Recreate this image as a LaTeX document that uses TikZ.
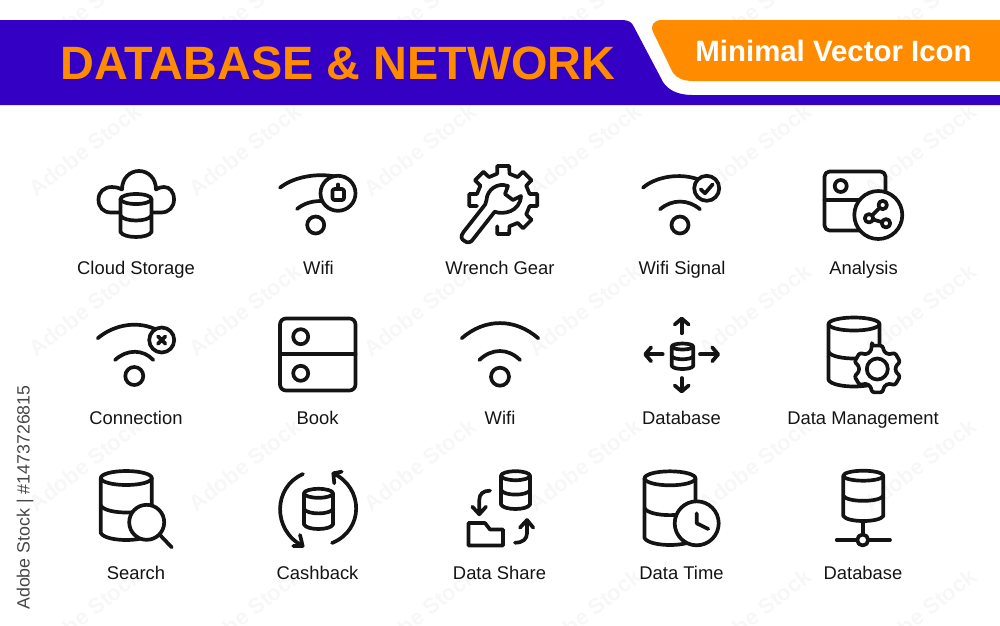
\documentclass[tikz,border=0pt]{standalone}
\usepackage{fontspec}
\setmainfont{Liberation Sans}
\usepackage{tikz}
\usetikzlibrary{arrows.meta}
\definecolor{bandblue}{HTML}{3300C4}
\definecolor{bandorange}{HTML}{FF8C00}
\definecolor{inkblack}{HTML}{141414}
\tikzstyle{Icon}=[draw=inkblack, line width=3.7, line cap=round, line join=round]
\tikzstyle{Badge}=[Icon, fill=white]
\tikzstyle{Barb}=[-{Straight Barb[length=6,width=14,round]}]
\tikzstyle{Label}=[anchor=base, inner sep=0, text=inkblack, font=\fontsize{18.4}{20}\selectfont]
\tikzstyle{Mark}=[text=gray!6, rotate=38, font=\bfseries\fontsize{22}{24}\selectfont]
% centre x, centre y of the lid, half width, lid height, lowest y
\newcommand{\drum}[5]{%
    \draw[Icon] (#1,#2) ellipse [x radius=#3, y radius=#4];
    \draw[Icon] ({#1-#3},#2) -- ({#1-#3},{#5-#4})
        .. controls ({#1-0.8*#3},{#5+0.33*#4}) and ({#1+0.8*#3},{#5+0.33*#4}) .. ({#1+#3},{#5-#4})
        -- ({#1+#3},#2);
    \draw[Icon] ({#1-#3},{(#2+#5-#4)/2})
        .. controls ({#1-0.8*#3},{(#2+#5-#4)/2+1.33*#4}) and ({#1+0.8*#3},{(#2+#5-#4)/2+1.33*#4}) .. ({#1+#3},{(#2+#5-#4)/2});
}
\begin{document}
\begin{tikzpicture}[x=1pt, y=-1pt]
    \useasboundingbox (0,0) rectangle (1000,625);

    \foreach \row/\ypos in {0/10, 1/150, 2/310, 3/465, 4/615}
        \foreach \col/\xpos in {0/85, 1/245, 2/420, 3/585, 4/755, 5/920}
            \node[Mark] (mark\row\col) at (\xpos,\ypos) {Adobe Stock};

    % header
    \fill[bandblue] (0,20) -- (622,20) .. controls (628,20) and (632,22) .. (634,27) -- (663,82)
        .. controls (668,90) and (678,95) .. (692,95) -- (1000,95) -- (1000,105) -- (0,105) -- cycle;
    \fill[bandorange] (662,20) -- (1000,20) -- (1000,81) -- (693,81)
        .. controls (683,81) and (677,78) .. (673,73) -- (653,32)
        .. controls (650,25) and (654,20) .. (662,20) -- cycle;
    \path
    (338,79.5) node[anchor=base, inner sep=0, text=bandorange, font=\bfseries\fontsize{46.8}{50}\selectfont] (title) {DATABASE \& NETWORK}
    (833.5,61) node[anchor=base, inner sep=0, text=white, font=\bfseries\fontsize{29.4}{32}\selectfont] (subtitle) {Minimal Vector Icon}
    (29.5,497.5) node[rotate=90, anchor=base, inner sep=0, text=black!72, font=\fontsize{17.8}{20}\selectfont] (stock) {Adobe Stock | \#1473726815};

    \path
    (136,274) node[Label] (cloudtext) {Cloud Storage}
    (318.5,274) node[Label] (wifilocktext) {Wifi}
    (500,274) node[Label] (wrenchtext) {Wrench Gear}
    (682,274) node[Label] (signaltext) {Wifi Signal}
    (863.5,274) node[Label] (analysistext) {Analysis}
    (136,424.5) node[Label] (connectiontext) {Connection}
    (317.5,424.5) node[Label] (booktext) {Book}
    (500,424.5) node[Label] (wifitext) {Wifi}
    (681.5,424.5) node[Label] (arrowstext) {Database}
    (863,424.5) node[Label] (managetext) {Data Management}
    (136,579) node[Label] (searchtext) {Search}
    (317.5,579) node[Label] (cashtext) {Cashback}
    (499.5,579) node[Label] (sharetext) {Data Share}
    (681.5,579) node[Label] (timetext) {Data Time}
    (863,579) node[Label] (nettext) {Database};

    % cloud storage
    \draw[Icon] (120,212.5) -- (111,212.5) .. controls (103,212.5) and (98.5,207) .. (98.5,199.5)
        .. controls (98.5,192) and (104,187) .. (112,187) .. controls (115,187) and (118,187.5) .. (122,189.5)
        .. controls (122,178) and (130,171) .. (139,171) .. controls (148,171) and (156,178) .. (156,189.5)
        .. controls (159,187.5) and (162,187) .. (164,187) .. controls (170,187) and (174,192) .. (174,199.5)
        .. controls (174,207) and (169,212.5) .. (161,212.5) -- (152,212.5);
    \drum{136}{199}{15.5}{5}{237}

    % wifi with lock
    \draw[Icon] (280,187.7) .. controls (292,178) and (315,172) .. (338,177);
    \draw[Icon] (297,209) .. controls (303,204) and (311,201) .. (321,201);
    \draw[Icon] (315.7,225) circle (8.5);
    \draw[Badge] (338,193.3) circle (17.5);
    \draw[Icon, rounded corners=2] (332.5,189) rectangle (344,200);
    \draw[Icon] (338,184.5) -- (338,187);

    % wrench in a gear
    \begin{scope}[shift={(503.3,200)}]
        \draw[Icon] (167:27) \foreach \a in {180,225,270,315,360,405,450} {
            -- (\a-13:27) -- (\a-10:34.5) -- (\a+10:34.5) -- (\a+13:27)};
    \end{scope}
    \draw[Icon] (508,186) .. controls (497,182) and (487,190) .. (486.5,200) -- (485.3,204.3) -- (463.3,232.3)
        .. controls (460.5,236.5) and (461,239) .. (464.5,241) .. controls (467,243) and (470.5,243) .. (472.7,239.7)
        -- (494.7,211.7) .. controls (503,215) and (520,212) .. (521,196) -- (513,200) -- (505,194) -- cycle;

    % wifi signal
    \draw[Icon] (643,187.7) .. controls (655,177) and (680,172) .. (700,180);
    \draw[Icon] (660,209.3) .. controls (672,199) and (688,199) .. (700,209.3);
    \draw[Icon] (680,225) circle (8.5);
    \draw[Badge] (706.7,188.3) circle (12.5);
    \draw[Icon] (700.7,189.3) -- (705,193.3) -- (712.7,184.3);

    % analysis
    \draw[Icon, rounded corners=5] (824.5,171.5) rectangle (885.5,230.5);
    \draw[Icon] (824.5,200) -- (885.5,200);
    \draw[Icon] (840.7,186) circle (6);
    \draw[Badge] (878.3,215) circle (24);
    \draw[Icon] (882.7,205) -- (869,218.3) -- (886,223.3);
    \foreach \xpos/\ypos in {882.7/205, 869/218.3, 886/223.3}
        \draw[Icon, fill=white] (\xpos,\ypos) circle (4.2);

    % wifi with a cross
    \draw[Icon] (97.7,338.3) .. controls (112,326) and (135,320) .. (155,329);
    \draw[Icon] (115,360) .. controls (127,349) and (143,349) .. (153.3,360);
    \draw[Icon] (134.3,376) circle (9);
    \draw[Badge] (161.7,340) circle (12.5);
    \draw[Icon] (158,336.3) -- (165.4,343.7) (165.4,336.3) -- (158,343.7);

    % book
    \draw[Icon, rounded corners=6] (280,318.5) rectangle (355.5,390.5);
    \draw[Icon] (280,354.3) -- (355.5,354.3);
    \draw[Icon] (300.7,336.7) circle (7.5);
    \draw[Icon] (300.7,373.3) circle (7.5);

    % wifi
    \draw[Icon] (461.7,338.3) .. controls (485,318) and (515,318) .. (538.3,338.3);
    \draw[Icon] (479.3,360) .. controls (492,348) and (508,348) .. (520,360);
    \draw[Icon] (500,376.7) circle (9);

    % database with arrows
    \drum{682.5}{346.5}{10.7}{3}{369}
    \draw[Icon, Barb] (681.7,333.3) -- (681.7,316.7);
    \draw[Icon, Barb] (681.7,378) -- (681.7,393.3);
    \draw[Icon, Barb] (662.7,354.3) -- (643.3,354.3);
    \draw[Icon, Barb] (700,354.3) -- (720,354.3);

    % data management
    \drum{854}{324}{25.5}{6.5}{386.5}
    \begin{scope}[shift={(877.3,369)}]
        \draw[Badge, rounded corners=2.5] (257:24) \foreach \a in {270,330,30,90,150,210} {
            -- (\a-13:24) -- (\a+13:24) -- (\a+30-9:18.5) -- (\a+30+9:18.5)} -- cycle;
    \end{scope}
    \draw[Icon] (877.3,369) circle (10.5);

    % search
    \drum{126.3}{478}{25.5}{7}{540}
    \draw[Badge] (146.7,522.3) circle (17.5);
    \draw[Icon] (159.5,534.5) -- (171.7,547.3);

    % cashback
    \drum{318.5}{493.3}{14.5}{4.5}{529}
    \draw[Icon] (303,474) .. controls (273,487) and (272,530) .. (302.7,546) (293.3,546) -- (302.7,546) -- (300,535);
    \draw[Icon] (332,543) .. controls (364,530) and (364,488) .. (333.3,473.3) (341.7,471.7) -- (333.3,473.3) -- (334.3,483.3);

    % data share
    \drum{515.5}{475.7}{14.5}{4.5}{509}
    \draw[Icon] (468.5,523) -- (485,523) -- (490,529.5) -- (503,529.5) -- (503,545.5) -- (468.5,545.5) -- cycle;
    \draw[Icon] (490,490.7) .. controls (483,490.7) and (479.3,494) .. (479.3,500) -- (479.3,514.3)
        (472.3,506.7) -- (479.3,514.3) -- (486,506.7);
    \draw[Icon] (515,542.7) .. controls (523,542.7) and (527,539) .. (527,533) -- (527,520)
        (520,527.7) -- (527,520) -- (533.3,527.7);

    % data time
    \drum{670}{478.3}{25.5}{7}{545}
    \draw[Badge] (696.7,523.3) circle (22);
    \draw[Icon] (696.7,513.3) -- (696.7,523.3) -- (708.3,529);

    % database on a line
    \drum{863.3}{475.7}{20}{5}{521}
    \draw[Icon] (862.7,523) -- (862.7,535);
    \draw[Icon] (836.7,540) -- (890,540);
    \draw[Badge] (862.7,540) circle (5.5);
\end{tikzpicture}
\end{document}
